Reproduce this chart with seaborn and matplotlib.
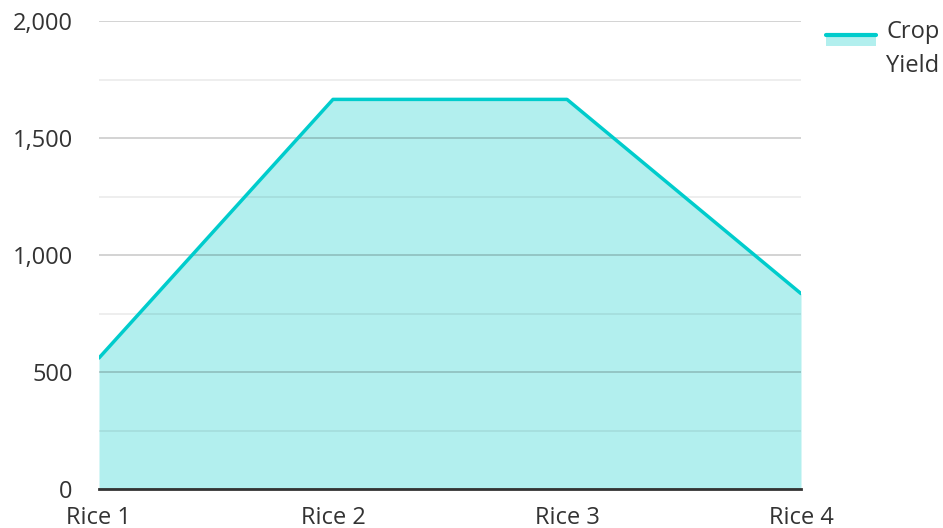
import numpy as np
import matplotlib
matplotlib.use("Agg")
import matplotlib.pyplot as plt
import seaborn as sns
import pandas as pd
from matplotlib.patches import Rectangle
from matplotlib.lines import Line2D
from matplotlib.ticker import FuncFormatter, MultipleLocator

varieties = ["Rice 1", "Rice 2", "Rice 3", "Rice 4"]
crop_yield = [560, 1665, 1665, 835]
series_name = "Crop\nYield"

sns.set_style("white")
plt.rcParams["font.family"] = ["Open Sans", "DejaVu Sans"]

df = pd.DataFrame({"variety": varieties, "yield": crop_yield})
df["pos"] = np.arange(len(df))

W, H = 943, 528
fig = plt.figure(figsize=(W / 100, H / 100), dpi=100)
ax = fig.add_axes([99 / W, 1 - 489 / H, 702 / W, 468 / H])

line_col = "#00cccc"
fill_col = "#b2efee"
txt_col = "#333333"

ax.fill_between(df["pos"], df["yield"], 0, color=fill_col, lw=0, zorder=1)
sns.lineplot(data=df, x="pos", y="yield", ax=ax, color=line_col, lw=2.5, zorder=3)

ax.set_xlim(0, 3)
ax.set_ylim(0, 2000)
ax.yaxis.set_major_locator(MultipleLocator(500))
ax.yaxis.set_minor_locator(MultipleLocator(250))
ax.yaxis.set_major_formatter(FuncFormatter(lambda v, p: f"{int(v):,}"))
ax.set_xticks(df["pos"])
ax.set_xticklabels(varieties)

ax.grid(True, which="major", axis="y", color="#000000", alpha=0.2, lw=1.2, zorder=2)
ax.grid(True, which="minor", axis="y", color="#000000", alpha=0.08, lw=1.2, zorder=2)
ax.grid(False, axis="x")
ax.set_axisbelow(False)

for s in ["top", "right", "left"]:
    ax.spines[s].set_visible(False)
ax.spines["bottom"].set_color(txt_col)
ax.spines["bottom"].set_linewidth(2)
ax.spines["bottom"].set_zorder(4)

ax.tick_params(axis="both", which="both", length=0, labelsize=17, colors=txt_col)
ax.tick_params(axis="y", pad=19)
ax.tick_params(axis="x", pad=12)
ax.set_xlabel("")
ax.set_ylabel("")
if ax.get_legend():
    ax.get_legend().remove()

# legend key: filled box with a line on top, label wrapped on two lines
fig.patches.append(Rectangle((826 / W, 1 - 46 / H), 50 / W, 12 / H,
                             transform=fig.transFigure, facecolor=fill_col,
                             edgecolor="none"))
fig.lines.append(Line2D([826 / W, 876 / W], [1 - 35 / H, 1 - 35 / H],
                        transform=fig.transFigure, color=line_col, lw=3))
fig.text(886 / W, 1 - 20 / H, series_name, ha="left", va="top",
         fontsize=17, color=txt_col, linespacing=1.55)

fig.savefig("out.png", dpi=100)
